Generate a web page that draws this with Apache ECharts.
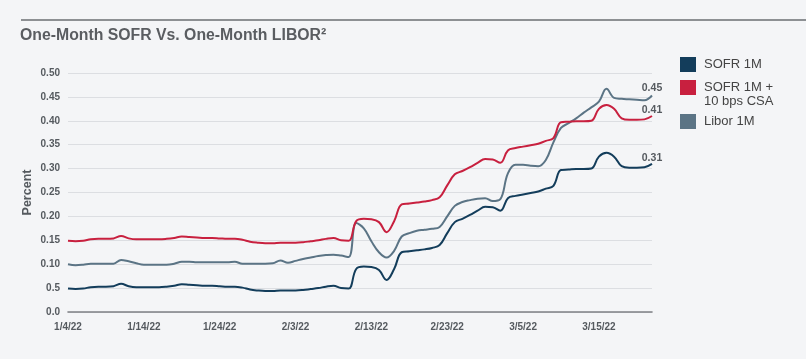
<!DOCTYPE html>
<html>
<head>
<meta charset="utf-8">
<script src="https://cdn.jsdelivr.net/npm/echarts@6/dist/echarts.min.js"></script>
<style>
  html, body { margin: 0; padding: 0; background: #f4f5f7; }
  #chart { width: 806px; height: 359px; }
</style>
</head>
<body>
<div id="chart"></div>
<script>
const titleText = 'One-Month SOFR Vs. One-Month LIBOR²';
const seriesNames = ['SOFR 1M', 'SOFR 1M +\n10 bps CSA', 'Libor 1M'];
const yTickLabels = ['0.0', '0.5', '0.10', '0.15', '0.20', '0.25', '0.30', '0.35', '0.40', '0.45', '0.50'];

const dates = [
  '1/4/22','1/5/22','1/6/22','1/7/22','1/8/22','1/9/22','1/10/22','1/11/22','1/12/22','1/13/22',
  '1/14/22','1/15/22','1/16/22','1/17/22','1/18/22','1/19/22','1/20/22','1/21/22','1/22/22','1/23/22',
  '1/24/22','1/25/22','1/26/22','1/27/22','1/28/22','1/29/22','1/30/22','1/31/22','2/1/22','2/2/22',
  '2/3/22','2/4/22','2/5/22','2/6/22','2/7/22','2/8/22','2/9/22','2/10/22','2/11/22','2/12/22',
  '2/13/22','2/14/22','2/15/22','2/16/22','2/17/22','2/18/22','2/19/22','2/20/22','2/21/22','2/22/22',
  '2/23/22','2/24/22','2/25/22','2/26/22','2/27/22','2/28/22','3/1/22','3/2/22','3/3/22','3/4/22',
  '3/5/22','3/6/22','3/7/22','3/8/22','3/9/22','3/10/22','3/11/22','3/12/22','3/13/22','3/14/22',
  '3/15/22','3/16/22','3/17/22','3/18/22','3/19/22','3/20/22','3/21/22','3/22/22'
];

const sofr1m = [
  0.049,0.048,0.049,0.052,0.053,0.053,0.054,0.059,0.054,0.052,
  0.052,0.052,0.052,0.053,0.055,0.058,0.057,0.056,0.055,0.055,
  0.054,0.053,0.053,0.051,0.047,0.045,0.044,0.044,0.045,0.045,
  0.045,0.046,0.048,0.050,0.053,0.055,0.050,0.049,0.090,0.095,
  0.094,0.088,0.067,0.090,0.125,0.127,0.129,0.131,0.134,0.140,
  0.165,0.188,0.195,0.203,0.212,0.220,0.219,0.212,0.238,0.243,
  0.246,0.249,0.252,0.258,0.264,0.297,0.298,0.299,0.299,0.300,
  0.325,0.333,0.325,0.305,0.302,0.302,0.303,0.310
];

const sofr1mCsa = [
  0.149,0.148,0.149,0.152,0.153,0.153,0.154,0.159,0.154,0.152,
  0.152,0.152,0.152,0.153,0.155,0.158,0.157,0.156,0.155,0.155,
  0.154,0.153,0.153,0.151,0.147,0.145,0.144,0.144,0.145,0.145,
  0.145,0.146,0.148,0.150,0.153,0.155,0.150,0.149,0.190,0.195,
  0.194,0.188,0.167,0.190,0.225,0.227,0.229,0.231,0.234,0.240,
  0.265,0.288,0.295,0.303,0.312,0.320,0.319,0.312,0.338,0.343,
  0.346,0.349,0.352,0.358,0.364,0.397,0.398,0.399,0.399,0.400,
  0.425,0.433,0.425,0.405,0.402,0.402,0.403,0.410
];

const libor1m = [
  0.100,0.098,0.099,0.101,0.101,0.101,0.101,0.109,0.106,0.102,
  0.099,0.099,0.099,0.099,0.101,0.105,0.105,0.104,0.104,0.104,
  0.104,0.104,0.105,0.101,0.101,0.101,0.101,0.102,0.108,0.103,
  0.107,0.111,0.114,0.117,0.119,0.120,0.118,0.115,0.186,0.175,
  0.148,0.125,0.114,0.128,0.158,0.165,0.170,0.172,0.174,0.178,
  0.200,0.222,0.230,0.234,0.237,0.238,0.232,0.236,0.290,0.308,
  0.308,0.306,0.305,0.318,0.355,0.385,0.395,0.405,0.417,0.428,
  0.440,0.467,0.448,0.446,0.445,0.444,0.443,0.453
];

const colors = ['#133d5b', '#c8203f', '#5b7485'];
const FONT = 'Liberation Sans, Arial, sans-serif';
const TXT = '#555a5f';

const allSeries = [sofr1m, sofr1mCsa, libor1m];
const labelDistance = [0, 0, 2];
const last = dates.length - 1;

function legendAt(name, top, extra) {
  return Object.assign({
    data: [name],
    orient: 'vertical',
    left: 680,
    top: top,
    padding: 0,
    icon: 'rect',
    itemWidth: 16,
    itemHeight: 15,
    selectedMode: false,
    textStyle: { fontFamily: FONT, fontSize: 13, color: '#444', lineHeight: 14, padding: [0, 0, 0, 3] }
  }, extra || {});
}

const chart = echarts.init(document.getElementById('chart'), null, { renderer: 'canvas' });
chart.setOption({
  backgroundColor: '#f4f5f7',
  animation: false,
  color: colors,
  title: {
    text: titleText,
    left: 20,
    top: 28,
    padding: 0,
    textStyle: { fontFamily: FONT, fontSize: 15.8, fontWeight: 'bold', color: '#5a5d61' }
  },
  graphic: [{
    type: 'line',
    shape: { x1: 21, y1: 20, x2: 806, y2: 20 },
    style: { stroke: '#6b6e72', lineWidth: 1.6 }
  }],
  legend: [
    legendAt(seriesNames[0], 57),
    legendAt(seriesNames[1], 66.5, {
      formatter: function (name) { return ' \n' + name; }
    }),
    legendAt(seriesNames[2], 114)
  ],
  grid: { left: 68, right: 154, top: 73, bottom: 47, containLabel: false },
  xAxis: {
    type: 'category',
    data: dates,
    boundaryGap: false,
    axisLine: { lineStyle: { color: '#7d8085', width: 1.6 } },
    axisTick: { show: false },
    axisLabel: {
      interval: 9,
      margin: 10,
      fontFamily: FONT,
      fontSize: 10,
      fontWeight: 'bold',
      color: TXT
    },
    splitLine: { show: false }
  },
  yAxis: {
    type: 'value',
    min: 0,
    max: 0.5,
    interval: 0.05,
    name: 'Percent',
    nameLocation: 'middle',
    nameGap: 34,
    nameMoveOverlap: false,
    nameTextStyle: { fontFamily: FONT, fontSize: 12.5, fontWeight: 'bold', color: TXT },
    axisLine: { show: false },
    axisTick: { show: false },
    axisLabel: {
      margin: 8,
      fontFamily: FONT,
      fontSize: 10,
      fontWeight: 'bold',
      color: TXT,
      formatter: function (v) {
        const i = Math.round(v / 0.05);
        return yTickLabels[i] !== undefined ? yTickLabels[i] : '';
      }
    },
    splitLine: { lineStyle: { color: '#dcdee2', width: 1 } }
  },
  series: allSeries.map(function (vals, k) {
    return {
      name: seriesNames[k],
      type: 'line',
      data: vals,
      smooth: 0.4,
      showSymbol: false,
      lineStyle: { width: 2, color: colors[k] },
      itemStyle: { color: colors[k] },
      z: k === 1 ? 3 : (k === 2 ? 2 : 4),
      markPoint: {
        symbol: 'circle',
        symbolSize: 0,
        silent: true,
        data: [{ coord: [dates[last], vals[last]], value: vals[last] }],
        label: {
          show: true,
          position: 'top',
          distance: labelDistance[k],
          fontFamily: FONT,
          fontSize: 10.5,
          fontWeight: 'bold',
          color: TXT,
          formatter: function (p) { return Number(p.value).toFixed(2); }
        }
      }
    };
  })
});
</script>
</body>
</html>
